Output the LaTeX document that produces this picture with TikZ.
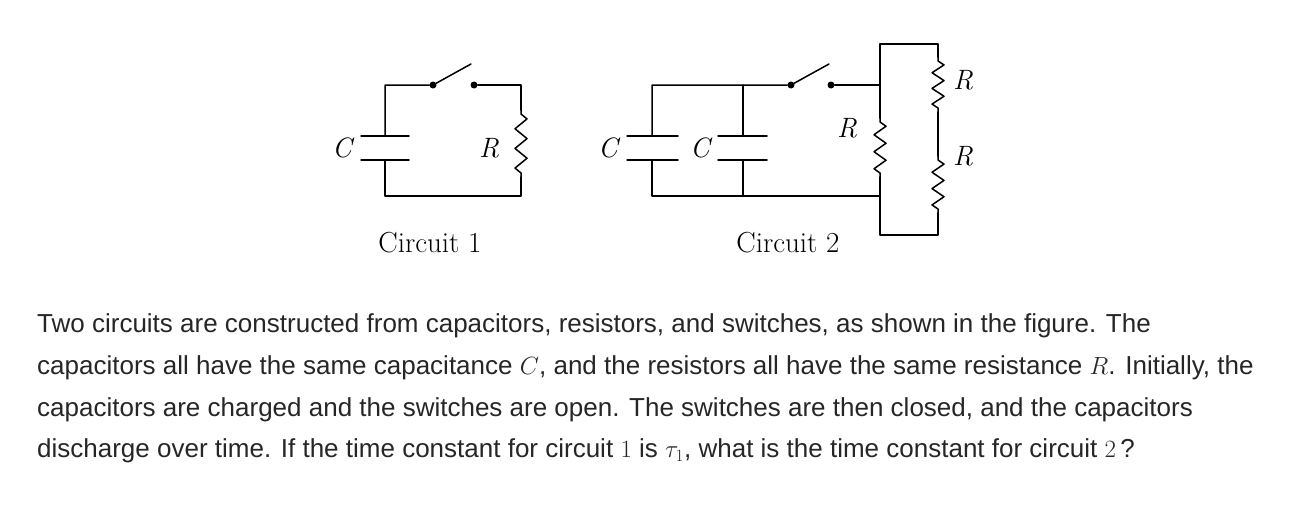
\documentclass[tikz,border=0pt]{standalone}
\usepackage{fontspec}
\setmainfont{Latin Modern Roman}
\newfontfamily\txt{Liberation Sans}
\begin{document}
\begin{tikzpicture}[x=1pt,y=-1pt,
  w/.style={line width=1.5pt,line cap=round,line join=round},
  dot/.style={circle,fill,inner sep=0pt,minimum size=7pt},
  lab/.style={font=\fontsize{28}{28}\selectfont\itshape,inner sep=0pt},
  ctitle/.style={font=\fontsize{29}{29}\selectfont,inner sep=0pt},
  para/.style={font=\txt\fontsize{26}{26}\selectfont,anchor=west,inner sep=0pt,text=black!85}]
\useasboundingbox (0,0) rectangle (1304,506);
\newcommand\myres[3]{% at x=#1 from y=#2 down to y=#3
  \pgfmathsetmacro\ha{(#3-#2-8)/12}
  \draw[w] (#1,#2) -- ++(0,4) -- ++(6,\ha) -- ++(-12,2*\ha) -- ++(12,2*\ha) -- ++(-12,2*\ha) -- ++(12,2*\ha) -- ++(-12,2*\ha) -- ++(6,\ha) -- (#1,#3);}
% Circuit 1
\node[dot] (s1) at (433,85) {}; \node[dot] (s2) at (474,85) {};
\draw[w] (385,136) -- (385,85) -- (s1) -- (471,64);
\draw[w] (s2) -- (521,85) -- (521,110);
\draw[w] (361,136) -- (409,136);
\draw[w] (361,160) -- (409,160);
\draw[w] (385,160) -- (385,196) -- (521,196) -- (521,177);
\myres{521}{110}{177}
\node[lab] at (342,148) {C};
\node[lab] at (489,148) {R};
% Circuit 2
\node[dot] (t1) at (791,85) {}; \node[dot] (t2) at (831,85) {};
\draw[w] (652,136) -- (652,85) -- (t1) -- (829,64);
\draw[w] (743,136) -- (743,85);
\draw[w] (652,160) -- (652,196) -- (880,196) -- (880,177);
\draw[w] (743,160) -- (743,196);
\draw[w] (627,136) -- (678,136); \draw[w] (627,160) -- (678,160);
\draw[w] (718,136) -- (767,136); \draw[w] (718,160) -- (767,160);
\draw[w] (t2) -- (880,85) -- (880,118);
\myres{880}{118}{177}
\draw[w] (880,85) -- (880,44) -- (938,44) -- (938,57);
\myres{938}{57}{112}
\draw[w] (938,112) -- (938,156);
\myres{938}{156}{213}
\draw[w] (938,213) -- (938,235) -- (880,235) -- (880,196);
\node[lab] at (608,148) {C};
\node[lab] at (700,148) {C};
\node[lab] at (847,128) {R};
\node[lab] at (963,80) {R};
\node[lab] at (963,156) {R};
\node[ctitle] at (430,243) {Circuit 1};
\node[ctitle] at (788,243) {Circuit 2};
\node[para] at (37,326) {Two circuits are constructed from capacitors, resistors, and switches, as shown in the figure. The};
\node[para] at (37,368) {capacitors all have the same capacitance $C$, and the resistors all have the same resistance $R$. Initially, the};
\node[para] at (37,410) {capacitors are charged and the switches are open. The switches are then closed, and the capacitors};
\node[para] at (37,451) {discharge over time. If the time constant for circuit $1$ is $\tau_1$, what is the time constant for circuit $2$\,?};
\end{tikzpicture}
\end{document}
